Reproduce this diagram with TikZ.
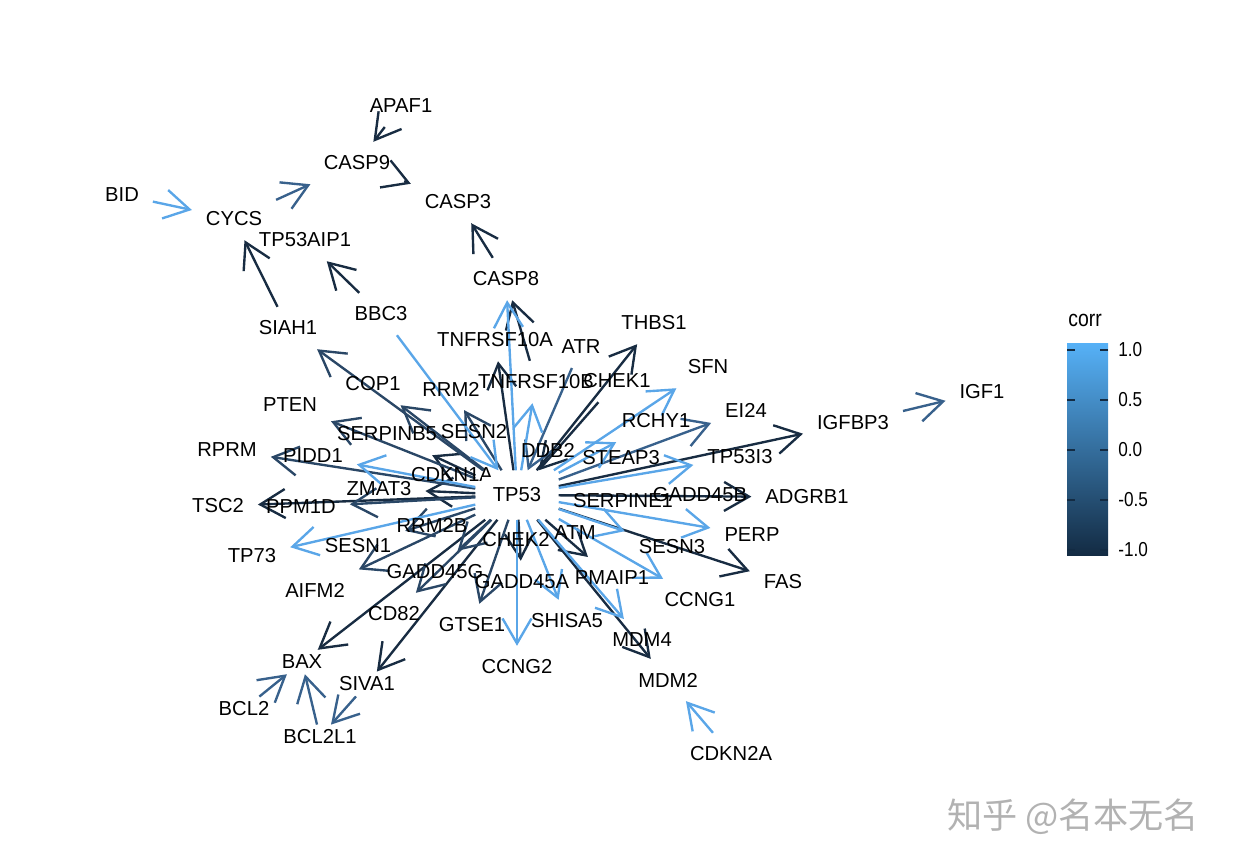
\documentclass[tikz,border=0pt]{standalone}
\usepackage{fontspec}
\setmainfont{Liberation Sans}
\newfontfamily\narrowfont[FakeStretch=0.85]{Liberation Sans}
\newfontfamily\cjkfont{Noto Sans CJK SC}
\usetikzlibrary{arrows.meta, backgrounds}

\definecolor{corrhigh}{HTML}{56B1F7}
\definecolor{corrmid}{HTML}{31577F}
\definecolor{corrlow}{HTML}{132B43}
\definecolor{linkhi}{HTML}{5AA6E8}
\definecolor{linkmid}{HTML}{38618C}
\definecolor{linkmidlow}{HTML}{2A4766}
\definecolor{linklow}{HTML}{182C42}

\tikzset{
    gene/.style = {inner sep = 1.5pt, outer sep = 6.5pt, font = \fontsize{11.5}{13}\selectfont},
    gene tight/.style = {gene, inner sep = 1pt, outer sep = 2pt},
    hub/.style = {gene, fill = white, inner sep = 6pt, outer sep = 4pt},
    link/.style = {every edge/.style = {draw = #1, line width = 1.35pt,
        -{Straight Barb[length = 5mm, width = 5.8mm]}}},
    tick/.style = {draw = corrlow, line width = 1pt},
}

\begin{document}
\begin{tikzpicture}[x = 0.02cm, y = -0.02cm]
    \useasboundingbox (0, 0) rectangle (1240, 867);

    \path[every node/.style = gene]
        (401, 106) node (APAF1) {APAF1}
        (357, 163) node (CASP9) {CASP9}
        (122, 195) node (BID) {BID}
        (458, 202) node (CASP3) {CASP3}
        (234, 219) node (CYCS) {CYCS}
        (305, 240) node (TP53AIP1) {TP53AIP1}
        (506, 279) node (CASP8) {CASP8}
        (288, 328) node (SIAH1) {SIAH1}
        (381, 314) node (BBC3) {BBC3}
        (654, 323) node (THBS1) {THBS1}
        (495, 340) node (TNFRSF10A) {TNFRSF10A}
        (581, 347) node (ATR) {ATR}
        (708, 367) node (SFN) {SFN}
        (536, 382) node (TNFRSF10B) {TNFRSF10B}
        (617, 381) node (CHEK1) {CHEK1}
        (373, 384) node (COP1) {COP1}
        (451, 389) node (RRM2) {RRM2}
        (290, 405) node (PTEN) {PTEN}
        (746, 410) node (EI24) {EI24}
        (656, 421) node (RCHY1) {RCHY1}
        (853, 423) node (IGFBP3) {IGFBP3}
        (982, 392) node (IGF1) {IGF1}
        (387, 434) node (SERPINB5) {SERPINB5}
        (474, 432) node (SESN2) {SESN2}
        (548, 450) node (DDB2) {DDB2}
        (227, 450) node (RPRM) {RPRM}
        (313, 456) node (PIDD1) {PIDD1}
        (621, 458) node (STEAP3) {STEAP3}
        (740, 457) node (TP53I3) {TP53I3}
        (452, 475) node (CDKN1A) {CDKN1A}
        (379, 489) node (ZMAT3) {ZMAT3}
        (517, 495) node[hub] (TP53) {TP53}
        (700, 495) node (GADD45B) {GADD45B}
        (807, 497) node (ADGRB1) {ADGRB1}
        (623, 501) node (SERPINE1) {SERPINE1}
        (218, 506) node (TSC2) {TSC2}
        (301, 507) node (PPM1D) {PPM1D}
        (432, 525) node (RRM2B) {RRM2B}
        (752, 535) node (PERP) {PERP}
        (575, 533) node (ATM) {ATM}
        (516, 540) node (CHEK2) {CHEK2}
        (358, 546) node (SESN1) {SESN1}
        (672, 547) node (SESN3) {SESN3}
        (252, 556) node (TP73) {TP73}
        (435, 572) node (GADD45G) {GADD45G}
        (522, 582) node (GADD45A) {GADD45A}
        (612, 578) node (PMAIP1) {PMAIP1}
        (783, 582) node (FAS) {FAS}
        (700, 600) node (CCNG1) {CCNG1}
        (315, 590) node (AIFM2) {AIFM2}
        (394, 614) node (CD82) {CD82}
        (472, 625) node (GTSE1) {GTSE1}
        (567, 621) node (SHISA5) {SHISA5}
        (642, 640) node (MDM4) {MDM4}
        (517, 667) node (CCNG2) {CCNG2}
        (302, 662) node[gene tight] (BAX) {BAX}
        (367, 684) node[gene tight] (SIVA1) {SIVA1}
        (668, 680) node (MDM2) {MDM2}
        (244, 709) node[gene tight] (BCL2) {BCL2}
        (320, 737) node[gene tight] (BCL2L1) {BCL2L1}
        (731, 754) node (CDKN2A) {CDKN2A}
    ;

    \begin{scope}[on background layer]
        \path[link = linklow]
            (APAF1) edge (CASP9)
            (CASP9) edge (CASP3)
            (CASP8) edge (CASP3)
            (SIAH1) edge (CYCS)
            (BBC3) edge (TP53AIP1)
            (TNFRSF10B) edge (CASP8)
            (CHEK1) edge (TP53)
            (TP53) edge (SERPINB5)
            (TP53) edge (ZMAT3)
            (TP53) edge (TSC2)
            (TP53) edge (BAX)
            (TP53) edge (SIVA1)
            (TP53) edge (GADD45A)
            (TP53) edge (PMAIP1)
            (TP53) edge (MDM2)
            (TP53) edge (FAS)
            (TP53) edge (ADGRB1)
            (TP53) edge (IGFBP3)
            (TP53) edge (THBS1)
            (TP53) edge (TNFRSF10A)
        ;
        \path[link = linkmidlow]
            (TP53) edge (SIAH1)
            (TP53) edge (COP1)
            (TP53) edge (RRM2)
            (TP53) edge (PTEN)
            (TP53) edge (RPRM)
            (TP53) edge (PPM1D)
            (TP53) edge (AIFM2)
            (TP53) edge (SESN1)
            (TP53) edge (GADD45G)
            (TP53) edge (CD82)
            (TP53) edge (GTSE1)
        ;
        \path[link = linkmid]
            (CYCS) edge (CASP9)
            (ATR) edge (TP53)
            (TP53) edge (EI24)
            (IGFBP3) edge (IGF1)
            (BCL2) edge (BAX)
            (BCL2L1) edge (BAX)
            (SIVA1) edge (BCL2L1)
        ;
        \path[link = linkhi]
            (BID) edge (CYCS)
            (BBC3) edge (TP53)
            (TP53) edge (CASP8)
            (TP53) edge (TNFRSF10B)
            (TP53) edge (PIDD1)
            (TP53) edge (TP73)
            (TP53) edge (CCNG2)
            (TP53) edge (SHISA5)
            (TP53) edge (MDM4)
            (TP53) edge (CCNG1)
            (TP53) edge (SESN3)
            (TP53) edge (PERP)
            (TP53) edge (TP53I3)
            (TP53) edge (RCHY1)
            (TP53) edge (SFN)
            (CDKN2A) edge (MDM2)
        ;
    \end{scope}

    % colour bar
    \node[font = \narrowfont\fontsize{13}{15}\selectfont] (corrtitle) at (1085, 320) {corr};
    \shade[top color = corrhigh, middle color = corrmid, bottom color = corrlow]
        (1067, 343) rectangle (1108, 555);
    \foreach \y/\v in {350/1.0, 400/0.5, 450/0.0, 500/-0.5, 550/-1.0} {
        \draw[tick] (1067, \y) -- (1075, \y) (1100, \y) -- (1108, \y);
        \node[anchor = west, inner sep = 0pt, font = \narrowfont\fontsize{11.5}{13}\selectfont]
            at (1118, \y) {\v};
    }

    \node[text = black!30, font = \cjkfont\fontsize{20}{22}\selectfont] (mark) at (1073, 817)
        {知乎 @名本无名};
\end{tikzpicture}
\end{document}
